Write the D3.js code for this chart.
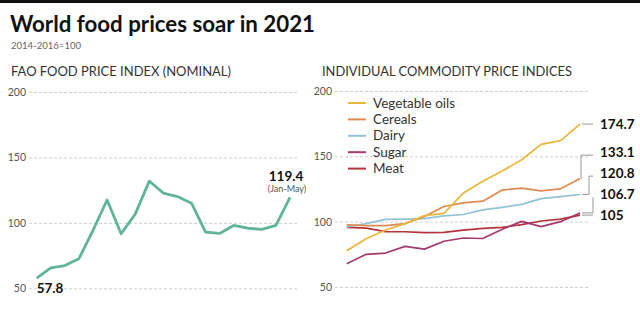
<!DOCTYPE html>
<html>
<head>
<meta charset="utf-8">
<script src="https://cdn.jsdelivr.net/npm/d3@7"></script>
<style>
  body { margin: 0; background: #fff; }
  svg { display: block; font-family: "Source Sans Pro", Lato, "Noto Sans", sans-serif; }
</style>
</head>
<body>
<svg id="chart" width="640" height="335"></svg>
<script>
// FAO food price index, annual (2021 = Jan-May)
const years = [2003, 2004, 2005, 2006, 2007, 2008, 2009, 2010, 2011, 2012,
    2013, 2014, 2015, 2016, 2017, 2018, 2019, 2020, 2021];
const foodIndex = [57.8, 65.6, 67.4, 72.6, 94.3, 117.5, 91.7, 106.7, 131.9, 122.8,
    120.1, 115.0, 93.0, 91.9, 98.0, 95.9, 95.0, 98.1, 119.4];

// commodity indices, monthly May 2020 - May 2021
const months = ["May 20", "Jun 20", "Jul 20", "Aug 20", "Sep 20", "Oct 20", "Nov 20",
    "Dec 20", "Jan 21", "Feb 21", "Mar 21", "Apr 21", "May 21"];
const vegOils = [77.8, 87.0, 93.6, 98.5, 104.6, 106.4, 121.9, 131.0, 138.8, 147.4, 159.2, 162.0, 174.7];
const cereals = [97.6, 96.9, 96.9, 98.5, 104.0, 111.6, 114.4, 115.7, 124.2, 125.7, 123.6, 125.1, 133.1];
const dairy = [96.0, 98.5, 101.8, 102.0, 102.3, 104.4, 105.5, 109.0, 111.0, 113.2, 117.6, 119.2, 120.8];
const sugar = [67.8, 75.0, 76.0, 81.1, 79.0, 85.0, 87.5, 87.1, 94.2, 100.2, 96.2, 100.0, 106.7];
const meat = [95.6, 95.0, 92.4, 92.3, 91.6, 91.8, 93.5, 94.9, 95.7, 97.7, 100.5, 102.0, 105.0];

const seriesNames = ["Vegetable oils", "Cereals", "Dairy", "Sugar", "Meat"];
const seriesValues = [vegOils, cereals, dairy, sugar, meat];
const seriesLabels = ["174.7", "133.1", "120.8", "106.7", "105"];
const yTicks = [50, 100, 150, 200];

const colors = ["#e8b73c", "#de8a50", "#91c3d7", "#a3396f", "#b5333a"];

const svg = d3.select("#chart");

// top rule
svg.append("rect").attr("x", 0).attr("y", 0).attr("width", 640).attr("height", 3).attr("fill", "#111");

svg.append("text")
    .attr("x", 10).attr("y", 32)
    .attr("font-size", 23).attr("font-weight", 700).attr("fill", "#111")
    .attr("textLength", 305).attr("lengthAdjust", "spacingAndGlyphs")
    .text("World food prices soar in 2021");

svg.append("text")
    .attr("x", 11).attr("y", 48.5)
    .attr("font-size", 10).attr("fill", "#666")
    .attr("textLength", 70).attr("lengthAdjust", "spacingAndGlyphs")
    .text("2014-2016=100");

svg.append("text")
    .attr("x", 11).attr("y", 75.5)
    .attr("font-size", 13.5).attr("fill", "#333")
    .attr("textLength", 220).attr("lengthAdjust", "spacingAndGlyphs")
    .text("FAO FOOD PRICE INDEX (NOMINAL)");

svg.append("text")
    .attr("x", 322).attr("y", 75.5)
    .attr("font-size", 13.5).attr("fill", "#333")
    .attr("textLength", 250).attr("lengthAdjust", "spacingAndGlyphs")
    .text("INDIVIDUAL COMMODITY PRICE INDICES");

const drawAxis = (g, yScale, width) => {
    g.call(d3.axisLeft(yScale).tickValues(yTicks).tickSize(-width).tickPadding(3));
    g.select(".domain").remove();
    g.selectAll(".tick line")
        .attr("stroke", "#cfcfcf")
        .attr("stroke-dasharray", "3,2");
    g.selectAll(".tick text")
        .attr("fill", "#555")
        .attr("font-size", 10.5)
        .attr("font-family", "\"Source Sans Pro\", Lato, \"Noto Sans\", sans-serif");
};

// left chart
const xLeft = d3.scaleLinear().domain([2003, 2021]).range([36.7, 290]);
const yLeft = d3.scaleLinear().domain([50, 200]).range([288.3, 92]);

const leftAxis = svg.append("g").attr("transform", "translate(29,0)");
drawAxis(leftAxis, yLeft, 268);

const leftLine = d3.line()
    .x((d, i) => xLeft(years[i]))
    .y(d => yLeft(d));

svg.append("path")
    .datum(foodIndex)
    .attr("d", leftLine)
    .attr("fill", "none")
    .attr("stroke", "#5fb49b")
    .attr("stroke-width", 2.8)
    .attr("stroke-linejoin", "round");

svg.append("text")
    .attr("x", xLeft(years[0])).attr("y", yLeft(50) + 5)
    .attr("font-size", 13.5).attr("font-weight", 700).attr("fill", "#111")
    .text(foodIndex[0]);

svg.append("text")
    .attr("x", xLeft(years[years.length - 1]) - 4).attr("y", 180.5)
    .attr("text-anchor", "middle")
    .attr("font-size", 13.5).attr("font-weight", 700).attr("fill", "#111")
    .text(foodIndex[foodIndex.length - 1]);

svg.append("text")
    .attr("x", xLeft(years[years.length - 1]) - 3).attr("y", 191.5)
    .attr("text-anchor", "middle")
    .attr("font-size", 9).attr("fill", "#555")
    .text("(Jan-May)");

// right chart
const xRight = d3.scalePoint().domain(months).range([346.7, 580]);
const yRight = d3.scaleLinear().domain([50, 200]).range([287, 91]);

const rightAxis = svg.append("g").attr("transform", "translate(335,0)");
drawAxis(rightAxis, yRight, 255);

const rightLine = d3.line()
    .x((d, i) => xRight(months[i]))
    .y(d => yRight(d));

// draw back to front so veg oils sits on top
svg.append("g")
    .selectAll("path")
    .data(seriesValues.map((v, i) => ({ values: v, color: colors[i] })).reverse())
    .join("path")
    .attr("d", d => rightLine(d.values))
    .attr("fill", "none")
    .attr("stroke", d => d.color)
    .attr("stroke-width", 1.7)
    .attr("stroke-linejoin", "round");

// legend
const legend = svg.append("g")
    .selectAll("g")
    .data(seriesNames)
    .join("g")
    .attr("transform", (d, i) => `translate(348,${103 + i * 16.4})`);

legend.append("line")
    .attr("x1", 0).attr("x2", 18)
    .attr("stroke", (d, i) => colors[i])
    .attr("stroke-width", 2);

legend.append("text")
    .attr("x", 25).attr("y", 4.5)
    .attr("font-size", 13.5).attr("fill", "#333")
    .text(d => d);

// end labels, pushed apart from the bottom up
const lastX = xRight(months[months.length - 1]);
const ends = seriesValues.map(v => yRight(v[v.length - 1]));
const labelY = ends.slice();
for (let i = labelY.length - 2; i >= 0; i--) {
    labelY[i] = Math.min(labelY[i], labelY[i + 1] - 21);
}
const elbowX = [lastX + 3, lastX + 1, lastX + 9, lastX + 13, lastX + 13];
const labelX = lastX + 20;

svg.append("g")
    .selectAll("path")
    .data(seriesLabels)
    .join("path")
    .attr("d", (d, i) => {
        const yl = labelY[i] + (i === 0 || i === 4 ? 0 : 3);
        return `M${lastX + 2},${ends[i]}H${elbowX[i]}V${yl}H${lastX + 13}`;
    })
    .attr("fill", "none")
    .attr("stroke", "#999")
    .attr("stroke-width", 1);

svg.append("g")
    .selectAll("text")
    .data(seriesLabels)
    .join("text")
    .attr("x", labelX)
    .attr("y", (d, i) => labelY[i] + 5)
    .attr("font-size", 13.5).attr("font-weight", 700).attr("fill", "#111")
    .text(d => d);
</script>
</body>
</html>
